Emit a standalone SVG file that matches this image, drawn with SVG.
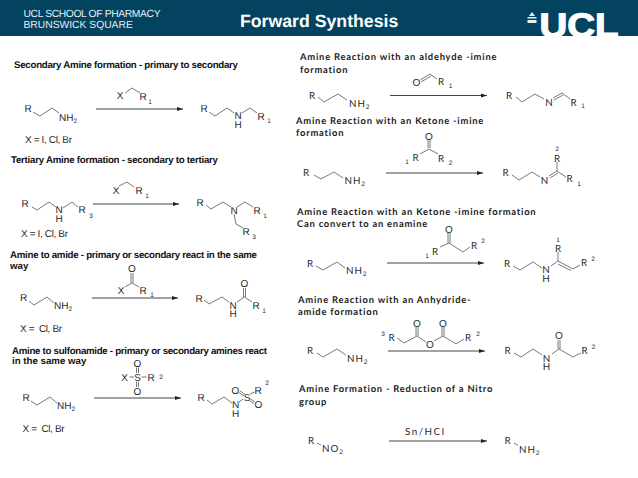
<svg xmlns="http://www.w3.org/2000/svg" width="638" height="478" viewBox="0 0 638 478">
<style>
text{font-family:"Liberation Sans",Arial,sans-serif;fill:#2a2a2a;text-rendering:geometricPrecision}
.hd{fill:#e4edf1;font-size:10.300px}
.tl{font-weight:700;font-size:9.700px;fill:#111}
.tr{font-family:Lato,"Open Sans",sans-serif;font-weight:700;font-size:9.4px;letter-spacing:.78px;fill:#222}
.a{font-size:10px;text-anchor:middle}
.n{font-size:10px}
.o{font-family:Lato,"Open Sans",sans-serif;font-size:9.8px;text-anchor:middle}
.p{font-family:Lato,"Open Sans",sans-serif;font-size:9.8px;letter-spacing:.9px}
.s{font-size:6.5px;text-anchor:middle}
.ss{font-size:6.5px}
.b{fill:none;stroke:#555;stroke-width:.8}
.ar{fill:none;stroke:#444;stroke-width:1;marker-end:url(#h)}
</style>
<defs><marker id="h" markerUnits="userSpaceOnUse" markerWidth="7" markerHeight="5" refX="6.5" refY="2.5" orient="auto"><path d="M0 .4L6.5 2.5L0 4.6z" fill="#222"/></marker></defs>
<rect width="638" height="36" fill="#03435f"/>
<g id="header">
<text class="hd" x="23.5" y="17" textLength="137">UCL SCHOOL OF PHARMACY</text>
<text class="hd" x="23.5" y="28">BRUNSWICK SQUARE</text>
<text x="240" y="27" font-size="17.700" font-weight="700" style="fill:#fff">Forward Synthesis</text>
</g>
<g id="logo">
<path d="M532 12L535 16H529zM527.5 17H536.5V18.500H527.500zM527.500 20H536.500V23H527.500z" fill="#e8eff2"/>
<text x="539.500" y="36.500" font-size="34" font-weight="700" textLength="79" lengthAdjust="spacingAndGlyphs" style="fill:#fff;stroke:#fff;stroke-width:1.2">UCL</text>
</g>
<g id="connectors">
<path class="ar" d="M96 109H183"/>
<path class="ar" d="M93 204H179"/>
<path class="ar" d="M92 298H178"/>
<path class="ar" d="M94 398H181"/>
<path class="ar" d="M390 95.500H487"/>
<path class="ar" d="M386 173H483"/>
<path class="ar" d="M387 263H484"/>
<path class="ar" d="M388 351H485"/>
<path class="ar" d="M389 441H487"/>
</g>
<g id="secondary-amine">
<text class="tl" x="14" y="68" textLength="224">Secondary Amine formation - primary to secondary</text>
<text class="n" x="25" y="143" textLength="47">X = I, Cl, Br</text>
</g>
<g id="s1-reactant"><text class="a" x="28" y="111.500">R</text><path class="b" d="M33 112L40 116L52 108L59 113"/><text class="n" x="59" y="120.500">NH<tspan class="ss" dy="2">2</tspan></text></g>
<g id="s1-reagent"><text class="a" x="120" y="99">X</text><path class="b" d="M125 93L132 88L140 93"/><text class="a" x="143" y="99.500">R</text><text class="s" x="150" y="104">1</text></g>
<g id="s1-product"><text class="a" x="204" y="111.500">R</text><path class="b" d="M209 112L215 116L227 108L234 113M242 113L250 108L257 113"/><text class="a" x="238" y="118.500">N<tspan x="238" dy="9">H</tspan></text><text class="a" x="261" y="119.500">R</text><text class="s" x="269" y="123">1</text></g>
<g id="tertiary-amine">
<text class="tl" x="11" y="163" textLength="207">Tertiary Amine formation - secondary to tertiary</text>
<text class="n" x="21" y="237" textLength="47">X = I, Cl, Br</text>
</g>
<g id="s2-reactant"><text class="a" x="25" y="206.500">R</text><path class="b" d="M32 207L37 210L49 202L56 207M63 208L72 202L78 207"/><text class="a" x="59" y="212.500">N<tspan x="59" dy="9">H</tspan></text><text class="a" x="82" y="212.500">R</text><text class="s" x="91" y="218">3</text></g>
<g id="s2-reagent"><text class="a" x="116" y="193.500">X</text><path class="b" d="M119 186L127 182L134 187"/><text class="a" x="139" y="193.500">R</text><text class="s" x="147" y="197.500">1</text></g>
<g id="s2-product"><text class="a" x="200" y="205.500">R</text><path class="b" d="M206 205L211 209L223 202L231 207M237 207L245 202L253 207M234 214L236 224L243 228"/><text class="a" x="234" y="213.500">N</text><text class="a" x="257" y="213.500">R</text><text class="s" x="265" y="217.500">1</text><text class="a" x="246" y="234.500">R</text><text class="s" x="254" y="238.500">3</text></g>
<g id="amide">
<text class="tl" x="10" y="258" textLength="247">Amine to amide - primary or secondary react in the same</text>
<text class="tl" x="10" y="269">way</text>
<text class="n" x="20" y="332" textLength="42">X =&#160; Cl, Br</text>
</g>
<g id="s3-reactant"><text class="a" x="23.500" y="301">R</text><path class="b" d="M29 301L34 305L47 297L54 303"/><text class="n" x="54" y="308.500">NH<tspan class="ss" dy="2">2</tspan></text></g>
<g id="s3-reagent"><text class="a" x="132" y="271.500">O</text><path class="b" d="M131 273V283M133 273V283M125 287L132 283L139 287"/><text class="a" x="121" y="293.500">X</text><text class="a" x="143" y="293.500">R</text><text class="s" x="152" y="297">1</text></g>
<g id="s3-product"><text class="a" x="199" y="301.500">R</text><path class="b" d="M204 300L209 304L222 297L229 302M237 302L244.500 297L252 302M243.500 288V297M245.500 288V297"/><text class="a" x="233" y="308.500">N<tspan x="233" dy="8">H</tspan></text><text class="a" x="244.500" y="286.500">O</text><text class="a" x="256" y="308.500">R</text><text class="s" x="264" y="312.500">1</text></g>
<g id="sulfonamide">
<text class="tl" x="12" y="354" textLength="255">Amine to sulfonamide - primary or secondary amines react</text>
<text class="tl" x="12" y="364">in the same way</text>
<text class="n" x="22.500" y="432" textLength="42">X =&#160; Cl, Br</text>
</g>
<g id="s4-reactant"><text class="a" x="26" y="400.500">R</text><path class="b" d="M31 401L37 405L50 397L57 403"/><text class="n" x="57" y="408.500">NH<tspan class="ss" dy="2">2</tspan></text></g>
<g id="s4-reagent"><text class="a" x="137.500" y="366.500">O<tspan x="137.500" dy="14">S</tspan><tspan x="137.500" dy="14">O</tspan></text><path class="b" d="M136.500 367.500V373M138.500 367.500V373M136.500 381.500V387M138.500 381.500V387M129.500 377H134M141.500 377H146.500"/><text class="a" x="124.500" y="380.500">X</text><text class="a" x="151" y="380.500">R</text><text class="s" x="161" y="378.500">2</text></g>
<g id="s4-product"><text class="a" x="201" y="400.500">R</text><path class="b" d="M207 400L212 404L224 397L232 403M239 402L243 399M239 392.500L244 396M240 391L245 394.500M250.500 399L255 402M249.500 400.500L254 403.500M250 394L254.500 392"/><text class="a" x="235.500" y="407.500">N<tspan x="235.500" dy="9">H</tspan></text><text class="a" x="247" y="400.500">S</text><text class="a" x="235.500" y="393.500">O</text><text class="a" x="258.500" y="407.500">O</text><text class="a" x="258" y="393.500">R</text><text class="s" x="267" y="385">2</text></g>
<g id="aldehyde">
<text class="tr" x="300" y="60">Amine Reaction with an aldehyde -imine</text>
<text class="tr" x="300" y="72.500">formation</text>
</g>
<g id="r5-reactant"><text class="o" x="312" y="98.500">R</text><path class="b" d="M318 97L324 102L338 94L347 100"/><text class="p" x="349" y="106.500">NH<tspan class="ss" dy="2">2</tspan></text></g>
<g id="r5-reagent"><text class="o" x="416.500" y="85.500">O</text><path class="b" d="M420 80L430 74M421 82L431 76M430 74L437 79"/><text class="o" x="441" y="84.500">R</text><text class="s" x="450.500" y="87.500">1</text></g>
<g id="r5-product"><text class="o" x="509" y="98.500">R</text><path class="b" d="M516 97L522 102L535 94L544 99M553 98L562 93M554 100L563 95M562 93L570 99"/><text class="o" x="549" y="106">N</text><text class="o" x="573.500" y="105.500">R</text><text class="s" x="583" y="108">1</text></g>
<g id="ketone-imine">
<text class="tr" x="296" y="123.500">Amine Reaction with an Ketone -imine</text>
<text class="tr" x="296" y="136">formation</text>
</g>
<g id="r6-reactant"><text class="o" x="306" y="175.500">R</text><path class="b" d="M314 175L321 179L334 172L343 178"/><text class="p" x="344.500" y="184">NH<tspan class="ss" dy="2">2</tspan></text></g>
<g id="r6-reagent"><text class="o" x="429" y="139.500">O</text><path class="b" d="M428 140V148M430 140V148M420 154L429 149L438 154"/><text class="s" x="407" y="163.500">1</text><text class="o" x="415.500" y="160.500">R</text><text class="o" x="441" y="161.500">R</text><text class="s" x="450.500" y="164.500">2</text></g>
<g id="r6-product"><text class="o" x="505.500" y="175.500">R</text><path class="b" d="M512 175L519 180L532 172L540 177M549 176L557 171M550 178L558 173M557 162V171M557 171L566 177"/><text class="o" x="544.500" y="183.500">N</text><text class="s" x="557" y="150.500">2</text><text class="o" x="557" y="161.500">R</text><text class="o" x="569.500" y="181.500">R</text><text class="s" x="579" y="185.500">1</text></g>
<g id="ketone-enamine">
<text class="tr" x="297" y="214.500">Amine Reaction with an Ketone -imine formation</text>
<text class="tr" x="297" y="227">Can convert to an enamine</text>
</g>
<g id="r7-reactant"><text class="o" x="310" y="266.500">R</text><path class="b" d="M316 266L323 270L337 262L345 268"/><text class="p" x="346" y="274">NH<tspan class="ss" dy="2">2</tspan></text></g>
<g id="r7-reagent"><text class="o" x="449" y="232.500">O</text><path class="b" d="M448 233V243M450 233V243M440 247L449 243L463 252L470 247"/><text class="s" x="427" y="257.500">1</text><text class="o" x="435" y="254.500">R</text><text class="o" x="474" y="248.500">R</text><text class="s" x="483" y="242.500">2</text></g>
<g id="r7-product"><text class="o" x="507" y="266.500">R</text><path class="b" d="M513 266L520 270L533 262L542 268M551 266L558 261M558 252V261M558 261L573 269M558 264L571 270.500M573 269L580 265"/><text class="o" x="546" y="273">N<tspan x="546" dy="8.500">H</tspan></text><text class="s" x="558" y="241.500">1</text><text class="o" x="558" y="251.500">R</text><text class="o" x="584" y="265.500">R</text><text class="s" x="593" y="261">2</text></g>
<g id="anhydride">
<text class="tr" x="298" y="302.500">Amine Reaction with an Anhydride-</text>
<text class="tr" x="298" y="314.500">amide formation</text>
</g>
<g id="r8-reactant"><text class="o" x="310" y="353.500">R</text><path class="b" d="M317 353L323 357L337 349L346 355"/><text class="p" x="347" y="362">NH<tspan class="ss" dy="2">2</tspan></text></g>
<g id="r8-reagent"><text class="s" x="383" y="335.500">3</text><text class="o" x="391.500" y="340.500">R</text><path class="b" d="M397 338L404 343L417 336L426 342M434 341L443 336L456 344L464 339M416 327V336M418 327V336M442 327V336M444 327V336"/><text class="o" x="417" y="326.500">O</text><text class="o" x="443" y="326.500">O</text><text class="o" x="430" y="348">O</text><text class="o" x="468" y="341">R</text><text class="s" x="478" y="336">2</text></g>
<g id="r8-product"><text class="o" x="507.500" y="353.500">R</text><path class="b" d="M514 353L521 357L533 349L542 355M552 354L559 349L573 357L581 353M558 340V349M560 340V349"/><text class="o" x="546.500" y="361.500">N<tspan x="546.500" dy="8">H</tspan></text><text class="o" x="559" y="339">O</text><text class="o" x="584.500" y="354">R</text><text class="s" x="593.500" y="348.500">2</text></g>
<g id="nitro">
<text class="tr" x="299" y="392">Amine Formation - Reduction of a Nitro</text>
<text class="tr" x="299" y="404.500">group</text>
</g>
<g id="r9-reactant"><text class="o" x="311" y="444">R</text><path class="b" d="M317 443L321 445"/><text class="p" x="322" y="452">NO<tspan class="ss" dy="2">2</tspan></text></g>
<g id="r9-reagent"><text class="p" x="405" y="435" style="letter-spacing:1.500px">Sn/HCl</text></g>
<g id="r9-product"><text class="o" x="507.500" y="444">R</text><path class="b" d="M514 443L518 445.500"/><text class="p" x="519" y="452.500">NH<tspan class="ss" dy="2">2</tspan></text></g>
</svg>
